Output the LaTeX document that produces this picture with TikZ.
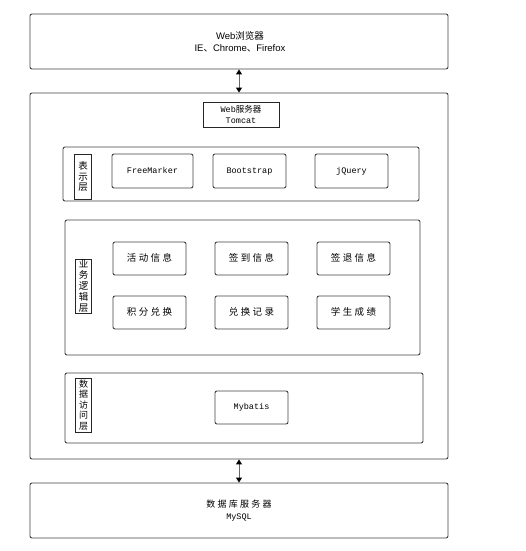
\documentclass[tikz,border=0pt]{standalone}
\usepackage{fontspec}
\setmainfont{Liberation Sans}
\newfontfamily\cjk{Noto Sans CJK SC}
\newfontfamily\cjksp{Noto Sans CJK SC}[LetterSpace=25]
\newfontfamily\mono{Liberation Mono}
\usetikzlibrary{arrows.meta}
\begin{document}
\begin{tikzpicture}[x=1pt,y=-1pt,
  rbox/.style={draw=black!75,line width=0.9pt,rounded corners=2pt,inner sep=0pt},
  sbox/.style={draw=black!85,line width=0.9pt,inner sep=0pt},
  item/.style={rbox,minimum width=73pt,minimum height=33pt,text height=7pt,text depth=1.5pt,font=\cjksp\fontsize{9.5}{11}\selectfont},
  mitem/.style={rbox,minimum width=73pt,minimum height=34pt,text height=6pt,text depth=1.5pt,font=\mono\fontsize{8.5}{10}\selectfont},
  vlabel/.style={sbox,minimum width=16.5pt,align=center,font=\cjk\fontsize{9.5}{10.8}\selectfont},
  link/.style={draw=black!60,line width=1pt,{Triangle[length=5pt,width=6pt,color=black]}-{Triangle[length=5pt,width=6pt,color=black]}}
]
\useasboundingbox (0,0) rectangle (526,551);
% outer boxes
\node[rbox,minimum width=418pt,minimum height=55pt] (browser) at (239,41.5) {};
\node[align=center,font=\fontsize{9.5}{12}\selectfont] (browsert) at (240,41.5) {Web{\cjk 浏览器}\\IE{\cjk 、}Chrome{\cjk 、}Firefox};
\node[rbox,minimum width=418pt,minimum height=366pt] (server) at (239,276) {};
\node[rbox,minimum width=418pt,minimum height=55pt] (db) at (239,510.5) {};
\node[align=center,font=\cjksp\fontsize{9}{11.5}\selectfont] (dbt) at (239,510.5) {数据库服务器\\{\mono\fontsize{8.5}{10}\selectfont MySQL}};
% web server label
\node[sbox,minimum width=76pt,minimum height=25pt,align=center,font=\mono\fontsize{8.5}{11}\selectfont] (tomcat) at (241,114.5) {Web{\cjk 服务器}\\Tomcat};
% presentation layer
\node[rbox,minimum width=356pt,minimum height=54pt] (pres) at (241,174) {};
\node[vlabel,minimum height=45pt] (presl) at (83,176.5) {表\\示\\层};
\node[mitem,minimum width=81pt] (fm) at (152.5,171) {FreeMarker};
\node[mitem] (bs) at (249.5,171) {Bootstrap};
\node[mitem] (jq) at (351.5,171) {jQuery};
% business layer
\node[rbox,minimum width=355pt,minimum height=135pt] (biz) at (242.5,287.5) {};
\node[vlabel,minimum height=54pt] (bizl) at (83.5,286) {业\\务\\逻\\辑\\层};
\node[item] (b1) at (149.5,258.5) {活动信息};
\node[item] (b2) at (251.5,258.5) {签到信息};
\node[item] (b3) at (353.5,258.5) {签退信息};
\node[item] (b4) at (149.5,312.5) {积分兑换};
\node[item] (b5) at (251.5,312.5) {兑换记录};
\node[item] (b6) at (353.5,312.5) {学生成绩};
% data access layer
\node[rbox,minimum width=358pt,minimum height=70pt] (dal) at (244,408) {};
\node[vlabel,minimum height=54pt,font=\cjk\fontsize{9}{10.6}\selectfont] (dall) at (83.5,405) {数\\据\\访\\问\\层};
\node[mitem,minimum height=33pt] (mb) at (251.5,407.5) {Mybatis};
% connectors
\draw[link] (browser.south) -- (server.north);
\draw[link] (server.south) -- (db.north);
\end{tikzpicture}
\end{document}
